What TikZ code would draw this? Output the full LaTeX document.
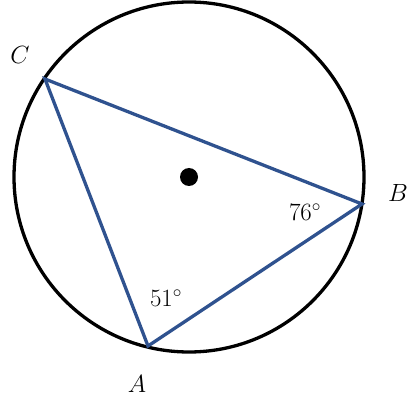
\documentclass[tikz,border=0pt]{standalone}
\usepackage{xcolor}
\definecolor{triblue}{RGB}{47,82,143}
\begin{document}
\begin{tikzpicture}[x=1pt,y=-1pt,
  lbl/.style={font=\fontsize{24}{28}\selectfont, inner sep=0pt},
  side/.style={draw=triblue, line width=3.3pt, line join=miter}]
\useasboundingbox (0,0) rectangle (417,403);
\coordinate (O) at (189,177);
\draw[line width=3.3pt] (O) circle[radius=175];
\fill (O) circle[radius=9];
\coordinate (C) at (45,79);
\coordinate (B) at (362,204);
\coordinate (A) at (148,346);
\draw[side] (C) -- (B) -- (A) -- cycle;
\node[lbl] (lC) at (20,55) {$C$};
\node[lbl] (lB) at (398,193) {$B$};
\node[lbl] (lA) at (137,384) {$A$};
\node[lbl] (a76) at (305,212) {$76^\circ$};
\node[lbl] (a51) at (166,298) {$51^\circ$};
\end{tikzpicture}
\end{document}
